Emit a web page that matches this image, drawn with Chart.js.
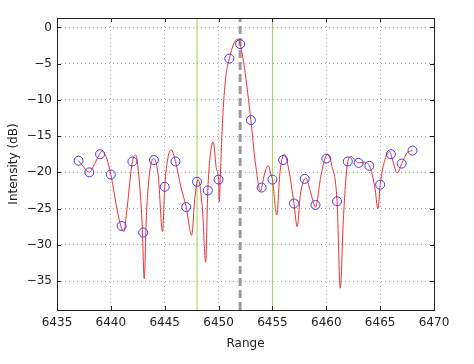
<!DOCTYPE html>
<html>
<head>
<meta charset="utf-8">
<script src="https://cdn.jsdelivr.net/npm/chart.js@4.4.0/dist/chart.umd.min.js"></script>
<style>
  html, body { margin: 0; padding: 0; background: #fff; }
  #c { display: block; }
</style>
</head>
<body>
<canvas id="c" width="474" height="364"></canvas>
<script>
// sampled range cells (circles)
var sampleX = [6437, 6438, 6439, 6440, 6441, 6442, 6443, 6444, 6445, 6446, 6447, 6448, 6449, 6450, 6451, 6452,
               6453, 6454, 6455, 6456, 6457, 6458, 6459, 6460, 6461, 6462, 6463, 6464, 6465, 6466, 6467, 6468];
var sampleY = [-18.4, -20.0, -17.5, -20.3, -27.4, -18.5, -28.3, -18.3, -22.0, -18.5, -24.8, -21.3, -22.5, -21.0, -4.3, -2.3,
               -12.8, -22.1, -21.0, -18.3, -24.3, -20.9, -24.5, -18.1, -24.0, -18.5, -18.7, -19.1, -21.7, -17.5, -18.8, -17.0];

// fine curve (red)
var curveX = [6437, 6437.5, 6438, 6438.5, 6439.2, 6439.6, 6440, 6440.5, 6440.9, 6441.2, 6441.5, 6442, 6442.3, 6442.6,
              6442.9, 6443.1, 6443.3, 6443.6, 6444, 6444.4, 6444.8, 6445, 6445.3, 6445.6, 6446, 6446.5, 6447, 6447.5,
              6447.8, 6448.1, 6448.5, 6448.8, 6449, 6449.2, 6449.5, 6449.8, 6450, 6450.07, 6450.15, 6450.4, 6450.7, 6451,
              6451.4, 6451.8, 6452, 6452.4, 6452.7, 6453, 6453.4, 6453.9, 6454, 6454.3, 6454.6, 6454.9, 6455, 6455.4,
              6455.7, 6456.1, 6456.5, 6457, 6457.3, 6457.6, 6458.1, 6458.5, 6459, 6459.5, 6460.1, 6460.5, 6461, 6461.3,
              6461.6, 6462, 6462.3, 6462.7, 6463, 6463.5, 6464, 6464.5, 6464.8, 6465, 6465.4, 6465.9, 6466, 6466.6,
              6467, 6467.5, 6468];
var curveY = [-18.4, -19.3, -20.0, -18.8, -17.1, -18.0, -20.3, -24.5, -27.3, -28.2, -25.0, -18.5, -17.6, -20.5,
              -27.0, -34.7, -26.0, -20.0, -18.1, -20.5, -28.2, -22.0, -18.0, -16.9, -18.5, -22.0, -24.8, -28.7,
              -23.5, -21.0, -25.0, -32.4, -22.5, -18.0, -15.8, -19.5, -21.0, -24.1, -21.0, -12.0, -6.5, -4.3,
              -2.3, -1.6, -2.3, -5.5, -9.0, -12.8, -18.5, -22.6, -22.1, -20.0, -19.1, -20.5, -21.0, -25.9,
              -20.0, -17.5, -19.5, -24.3, -27.5, -23.0, -20.8, -22.5, -24.8, -20.5, -17.5, -19.0, -24.0, -36.0,
              -26.0, -18.5, -17.8, -18.4, -18.7, -18.6, -19.1, -22.0, -25.0, -21.7, -18.5, -17.1, -17.5, -20.1,
              -18.8, -17.3, -17.0];

var xTicks = [6435, 6440, 6445, 6450, 6455, 6460, 6465, 6470];
var yTicks = [-35, -30, -25, -20, -15, -10, -5, 0];
var greenLines = [6448, 6455];
var centerLine = 6452;
var yMin = -39, yMax = 1.3;

function vline(x) {
    return [{ x: x, y: yMin }, { x: x, y: yMax }];
}

var frame = {
    id: "frame",
    afterDraw: function (chart) {
        var ctx = chart.ctx, a = chart.chartArea;
        var xs = chart.scales.x, ys = chart.scales.y;
        ctx.save();
        ctx.strokeStyle = "#222";
        ctx.lineWidth = 1;
        ctx.strokeRect(Math.round(a.left) + 0.5, Math.round(a.top) + 0.5, Math.round(a.width), Math.round(a.height));
        ctx.beginPath();
        xTicks.forEach(function (v) {
            var px = Math.round(xs.getPixelForValue(v)) + 0.5;
            ctx.moveTo(px, a.bottom); ctx.lineTo(px, a.bottom - 4);
            ctx.moveTo(px, a.top); ctx.lineTo(px, a.top + 4);
        });
        yTicks.forEach(function (v) {
            var py = Math.round(ys.getPixelForValue(v)) + 0.5;
            ctx.moveTo(a.left, py); ctx.lineTo(a.left + 4, py);
            ctx.moveTo(a.right, py); ctx.lineTo(a.right - 4, py);
        });
        ctx.stroke();
        ctx.restore();
    }
};

var font = { family: "DejaVu Sans", size: 12 };

new Chart(document.getElementById("c"), {
    type: "scatter",
    data: {
        datasets: [
            {
                data: sampleX.map((x, i) => ({ x: x, y: sampleY[i] })),
                showLine: false,
                pointStyle: "circle",
                pointRadius: 4.5,
                borderColor: "#3a3aff",
                backgroundColor: "rgba(0,0,0,0)",
                borderWidth: 1,
                order: 1,
            },
            {
                data: curveX.map((x, i) => ({ x: x, y: curveY[i] })),
                showLine: true,
                pointRadius: 0,
                borderColor: "#f03030",
                borderWidth: 1,
                cubicInterpolationMode: "monotone",
                order: 2,
            },
            {
                data: vline(centerLine),
                showLine: true,
                pointRadius: 0,
                borderColor: "#9a9a9a",
                borderWidth: 3,
                borderDash: [8, 4],
                order: 3,
            },
            {
                data: vline(greenLines[0]),
                showLine: true,
                pointRadius: 0,
                borderColor: "#9ad84a",
                borderWidth: 1,
                order: 4,
            },
            {
                data: vline(greenLines[1]),
                showLine: true,
                pointRadius: 0,
                borderColor: "#9ad84a",
                borderWidth: 1,
                order: 4,
            },
        ],
    },
    options: {
        responsive: false,
        animation: false,
        devicePixelRatio: 1,
        layout: { padding: { left: 0, right: 40, top: 18, bottom: 0 } },
        plugins: {
            legend: { display: false },
            tooltip: { enabled: false },
        },
        scales: {
            x: {
                type: "linear",
                min: 6435,
                max: 6470,
                afterBuildTicks: function (s) { s.ticks = xTicks.map(v => ({ value: v })); },
                afterFit: function (s) { s.height = 54; },
                grid: { color: "#aaa", drawTicks: false },
                border: { display: false, dash: [1, 3] },
                ticks: {
                    font: font,
                    color: "#222",
                    padding: 6,
                    maxRotation: 0,
                    callback: function (v) { return String(v); },
                },
                title: { display: true, text: "Range", font: font, color: "#222", padding: { top: 2, bottom: 13 } },
            },
            y: {
                min: yMin,
                max: yMax,
                afterBuildTicks: function (s) { s.ticks = yTicks.map(v => ({ value: v })); },
                afterFit: function (s) { s.width = 57; },
                grid: { color: "#aaa", drawTicks: false },
                border: { display: false, dash: [1, 3] },
                ticks: {
                    font: font,
                    color: "#222",
                    padding: 5,
                    callback: function (v) { return String(v).replace("-", "\u2212"); },
                },
                title: { display: true, text: "Intensity (dB)", font: font, color: "#222", padding: { top: 7, bottom: 0 } },
            },
        },
    },
    plugins: [frame],
});
</script>
</body>
</html>
